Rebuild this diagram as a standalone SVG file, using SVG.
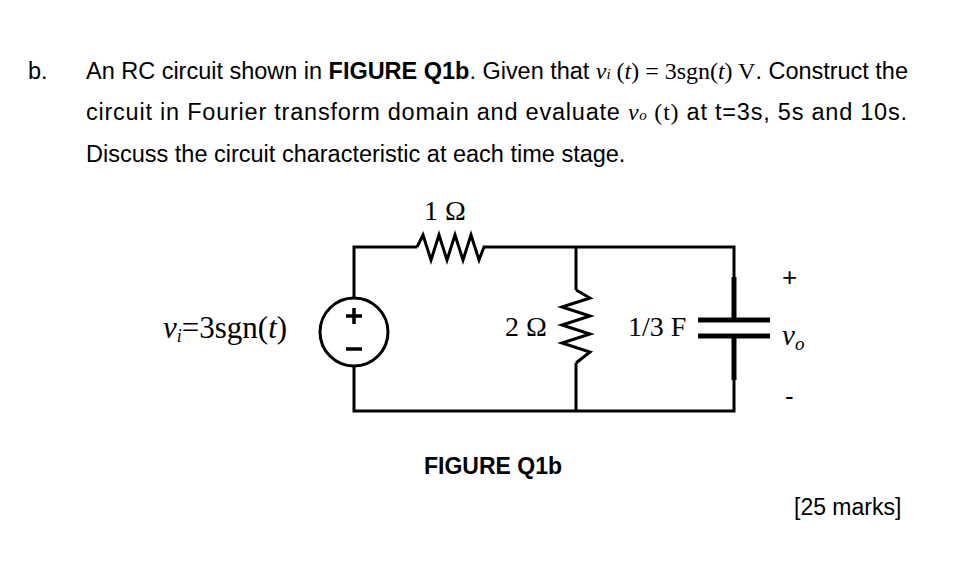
<svg xmlns="http://www.w3.org/2000/svg" width="975" height="571" viewBox="0 0 975 571">
<style>
.s{font-family:"Liberation Sans",Arial,sans-serif;font-size:23.5px;fill:#000}
.m{font-family:"Liberation Serif","Times New Roman",serif;font-size:24px;fill:#000}
.w{fill:none;stroke:#000;stroke-width:3;stroke-linejoin:miter}
</style>
<rect width="975" height="571" fill="#fff"/>
<text class="s" x="28" y="79">b.</text>
<text class="s" x="86" y="79" textLength="822" lengthAdjust="spacing">An RC circuit shown in <tspan font-weight="bold">FIGURE Q1b</tspan>. Given that <tspan class="m" font-style="italic">v</tspan><tspan class="m" font-style="italic" style="font-size:15px">i</tspan><tspan class="m"> (<tspan font-style="italic">t</tspan>) = 3sgn(<tspan font-style="italic">t</tspan>) V</tspan>. Construct the</text>
<text class="s" x="86" y="120" textLength="821" lengthAdjust="spacing">circuit in Fourier transform domain and evaluate <tspan class="m" font-style="italic">v</tspan><tspan class="m" font-style="italic" style="font-size:15px">o</tspan><tspan class="m"> (t)</tspan> at t=3s, 5s and 10s.</text>
<text class="s" x="86" y="162">Discuss the circuit characteristic at each time stage.</text>
<g id="wires">
<path class="w" d="M354,298 V247 H417 M488,247 H734 V277 M576,247 V290 M576,363 V411 M354,366 V411 H734 V380"/>
</g>
<g id="R1">
<path class="w" d="M417,247 L423,235 L431,260 L439,235 L447,260 L455,235 L463,260 L471,235 L479,260 L484,247 H488"/>
<text class="m" x="424" y="220" style="font-size:28px">1 Ω</text>
</g>
<g id="R2">
<path class="w" d="M576,290 L590,298 L562,307 L590,316 L562,325 L590,334 L562,343 L590,352 L576,363"/>
<text class="m" x="505" y="336" style="font-size:28px">2 Ω</text>
</g>
<g id="C">
<path fill="none" stroke="#000" stroke-width="5" d="M734,277 V320 M734,336 V380 M698,320 H770 M698,336 H770"/>
<text class="m" x="628" y="336" style="font-size:28px">1/3 F</text>
</g>
<g id="src">
<circle class="w" cx="354" cy="332" r="34"/>
<path stroke="#000" stroke-width="3.5" d="M346,316 H362 M354,308 V324 M346,349 H362"/>
<text class="m" x="163" y="338" style="font-size:31px"><tspan font-style="italic">v</tspan><tspan style="font-size:18px" font-style="italic" dy="4">i</tspan><tspan dy="-4">=3sgn(</tspan><tspan font-style="italic">t</tspan>)</text>
</g>
<text class="s" x="782" y="286" style="font-size:26px">+</text>
<text class="m" x="782" y="345" font-style="italic" style="font-size:29px">v<tspan style="font-size:19px" dy="5">o</tspan></text>
<text class="s" x="785" y="405" style="font-size:26px">-</text>
<text class="s" x="424" y="474" font-weight="bold" style="font-size:23px">FIGURE Q1b</text>
<text class="s" x="794" y="515" style="font-size:23px">[25 marks]</text>
</svg>
